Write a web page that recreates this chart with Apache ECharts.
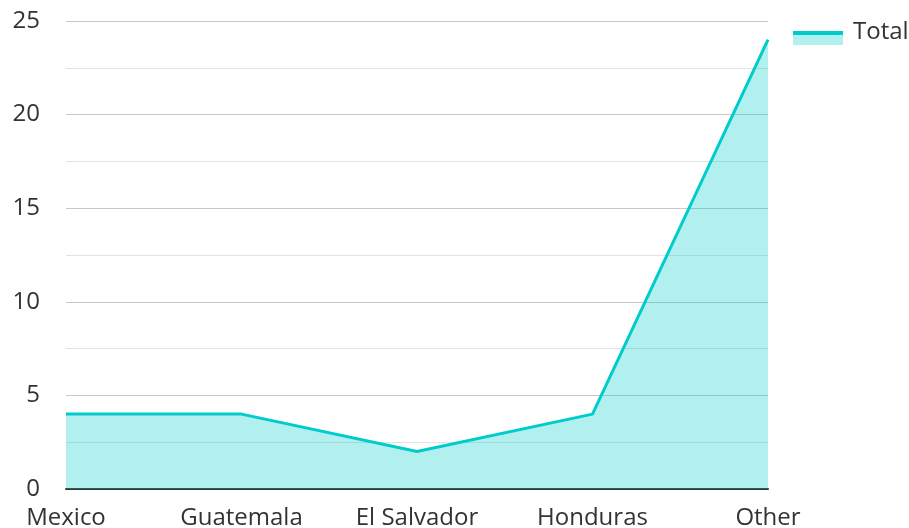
<!DOCTYPE html>
<html>
<head>
<meta charset="utf-8">
<script src="https://cdn.jsdelivr.net/npm/echarts@6/dist/echarts.min.js"></script>
<style>
html,body{margin:0;padding:0;background:#fff;}
#chart{width:909px;height:528px;}
</style>
</head>
<body>
<div id="chart"></div>
<script>
var categories = ['Mexico', 'Guatemala', 'El Salvador', 'Honduras', 'Other'];
var totalValues = [4, 4, 2, 4, 24];
var seriesName = 'Total';

var lineColor = '#00CCCC';
var fillColor = 'rgba(0,204,204,0.3)';
var chart = echarts.init(document.getElementById('chart'));
chart.setOption({
  animation: false,
  textStyle: { fontFamily: 'Open Sans' },
  grid: { left: 66, right: 141, top: 21, bottom: 39, containLabel: false, outerBoundsMode: 'none' },
  xAxis: {
    type: 'category',
    data: categories,
    boundaryGap: false,
    axisLine: { show: true, lineStyle: { color: '#333', width: 2 } },
    axisTick: { show: false },
    axisLabel: { color: '#333', fontSize: 24, margin: 17, fontFamily: 'Open Sans' },
    splitLine: { show: false }
  },
  yAxis: {
    type: 'value',
    min: 0, max: 25, interval: 5,
    axisLine: { show: false },
    axisTick: { show: false },
    axisLabel: { color: '#333', fontSize: 24, margin: 26, fontFamily: 'Open Sans' },
    splitLine: { show: true, lineStyle: { color: '#c8c8c8', width: 1 } },
    minorTick: { show: false, splitNumber: 2 },
    minorSplitLine: { show: true, lineStyle: { color: '#e3e3e3', width: 1 } }
  },
  series: [{
    name: seriesName,
    type: 'line',
    data: totalValues,
    symbol: 'none',
    lineStyle: { color: lineColor, width: 3 },
    itemStyle: { color: lineColor },
    areaStyle: { color: fillColor, opacity: 1 }
  }],
  graphic: [
    { type: 'rect', left: 793, top: 31, shape: { width: 50, height: 14 }, style: { fill: fillColor } },
    { type: 'rect', left: 793, top: 31, shape: { width: 50, height: 4 }, style: { fill: lineColor } },
    { type: 'text', left: 853, top: 20, style: { text: seriesName, fill: '#333', font: '24px "Open Sans"' } }
  ]
});
</script>
</body>
</html>
